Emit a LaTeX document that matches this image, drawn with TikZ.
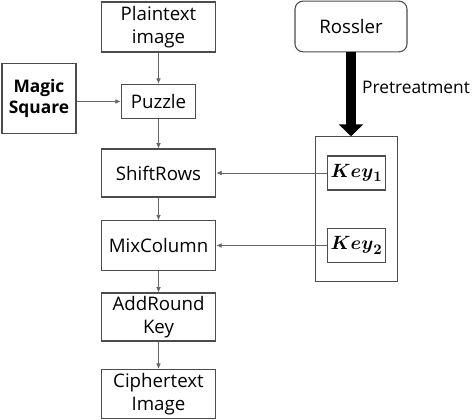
\documentclass[tikz,border=0pt]{standalone}
\usepackage{amsmath}
\usepackage{fontspec}
\setmainfont{Open Sans}
\usetikzlibrary{arrows.meta, fit, positioning}
\usepackage{xcolor}
\definecolor{Frame}{gray}{0.30}
\definecolor{Wire}{gray}{0.40}
\tikzset{%
  block/.style={%
    rectangle,%
    draw=Frame,%
    line width=0.8pt,%
    minimum width=86pt,%
    minimum height=37pt,%
    inner sep=1pt,%
    font={\fontsize{14}{17}\selectfont},%
    align=center%
  },
  key_block/.style={%
    rectangle,%
    draw=Frame,%
    line width=0.8pt,%
    minimum width=43.5pt,%
    minimum height=25.5pt,%
    inner sep=1pt,%
    font={\fontsize{15}{17}\selectfont},%
  },
  source/.style={%
    block,%
    rounded corners=6pt,%
    minimum width=84pt,%
    minimum height=38pt,%
  },
  flow/.style={%
    color=Wire,%
    line width=0.5pt,%
  },
  arrow/.style={-{Latex[length=4pt, width=3.5pt]}},
  big_arrow/.style={%
    line width=8pt,%
    -{Triangle[length=9pt, width=18pt]}%
  },
  annotate/.style={%
    font={\fontsize{13}{16}\selectfont},%
  },
}
\begin{document}
\begin{tikzpicture}[x=0.75pt, y=-0.75pt]

    \useasboundingbox (0, 0) rectangle (474, 420);

    % main column
    \node [block, minimum height=37.5pt] (Plain) at (158.5, 27) {Plaintext\\image};
    \node [block, minimum width=56pt, minimum height=26pt] (Puzzle) at (158.5, 101.5) {Puzzle};
    \node [block, minimum height=36pt] (ShiftRows) at (158.5, 173) {ShiftRows};
    \node [block] (MixColumn) at (158.5, 245.5) {MixColumn};
    \node [block, minimum height=36pt] (AddRound) at (158.5, 317) {AddRound\\Key};
    \node [block, minimum height=37pt] (Cipher) at (158.5, 394) {Ciphertext\\Image};

    \node [block, minimum width=55.5pt, minimum height=53pt,
      font={\fontsize{13}{16}\selectfont\bfseries}] (Magic) at (39, 98.5) {Magic\\Square};

    % key side
    \node [key_block, right = 83pt of ShiftRows] (Key1) {\(\boldsymbol{Key}_{\boldsymbol{1}}\)};
    \node [key_block, right = 83pt of MixColumn] (Key2) {\(\boldsymbol{Key}_{\boldsymbol{2}}\)};
    \node [draw=Frame, line width=0.8pt, inner xsep=8.5pt, inner ysep=14pt, fit=(Key1) (Key2)] (Keys) {};
    \node [source] (Rossler) at (351, 26.5) {Rossler};

    \draw [big_arrow]
      (Rossler.south)
      --
      (Rossler.south |- Keys.north)
      node [annotate, pos=0.42, right=1pt] (Pre) {Pretreatment};

    \draw [arrow, flow] (Plain.south) -- (Puzzle.north);
    \draw [arrow, flow] (Magic.east |- Puzzle) -- (Puzzle.west);
    \draw [arrow, flow] (Puzzle.south) -- (ShiftRows.north);
    \draw [arrow, flow] (ShiftRows.south) -- (MixColumn.north);
    \draw [arrow, flow] (MixColumn.south) -- (AddRound.north);
    \draw [arrow, flow] (AddRound.south) -- (Cipher.north);
    \draw [arrow, flow] (Key1.west) -- (ShiftRows.east);
    \draw [arrow, flow] (Key2.west) -- (MixColumn.east);

  \end{tikzpicture}
\end{document}
